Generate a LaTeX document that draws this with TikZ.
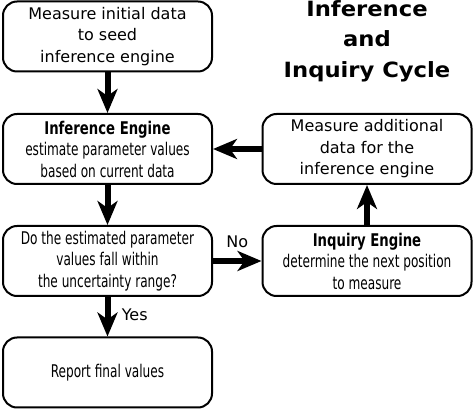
\documentclass[tikz,border=0pt]{standalone}
\usepackage{fontspec}
\setmainfont{DejaVu Sans}
\newfontfamily\condfont{DejaVu Sans Condensed}[FakeStretch=0.77, BoldFeatures={FakeStretch=0.84}]
\newfontfamily\titlefont{DejaVu Sans}[FakeStretch=1.08]
\usepackage{tikz}
\usetikzlibrary{arrows.meta}

\tikzset{
	stepbox/.style = {draw, line width=2pt, rounded corners=14pt,
		minimum width=209pt, minimum height=70pt, inner sep=2pt,
		align=center, font=\fontsize{16}{21.5}\selectfont},
	narrowtext/.style = {font=\condfont\fontsize{17.5}{21.5}\selectfont},
	flowarrow/.style = {line width=6pt,
		-{Stealth[length=24pt, width=20pt, inset=7pt]}},
	flowlabel/.style = {font=\fontsize{16}{18}\selectfont}
}

\begin{document}
\begin{tikzpicture}[x=1pt, y=-1pt]
			\useasboundingbox (0, 0) rectangle (474, 411);
			% left column
			\node[stepbox] (seed) at (107.5, 36.5)
				{Measure initial data\\to seed\\inference engine};
			\node[stepbox, narrowtext] (inference) at (107.5, 149)
				{\textbf{Inference Engine}\\estimate parameter values\\based on current data};
			\node[stepbox, narrowtext] (check) at (107.5, 261)
				{Do the estimated parameter\\values fall within\\the uncertainty range?};
			\node[stepbox, narrowtext] (report) at (107.5, 372.5)
				{Report final values};
			% right column
			\node[stepbox] (measure) at (367, 149)
				{Measure additional\\data for the\\inference engine};
			\node[stepbox, narrowtext] (inquiry) at (367, 261)
				{\textbf{Inquiry Engine}\\determine the next position\\to measure};
			% title
			\node[align=center, font=\titlefont\fontsize{21}{30.5}\selectfont\bfseries] (title) at (367, 41)
				{Inference\\and\\Inquiry Cycle};
			% arrows
			\draw[flowarrow] (seed) -- (inference);
			\draw[flowarrow] (inference) -- (check);
			\draw[flowarrow] (check) -- (report)
				node[flowlabel, pos=0.45, right=8pt] {Yes};
			\draw[flowarrow] (check) -- (inquiry)
				node[flowlabel, midway, above=7pt] {No};
			\draw[flowarrow] (inquiry) -- (measure);
			\draw[flowarrow] (measure) -- (inference);
		\end{tikzpicture}
\end{document}
